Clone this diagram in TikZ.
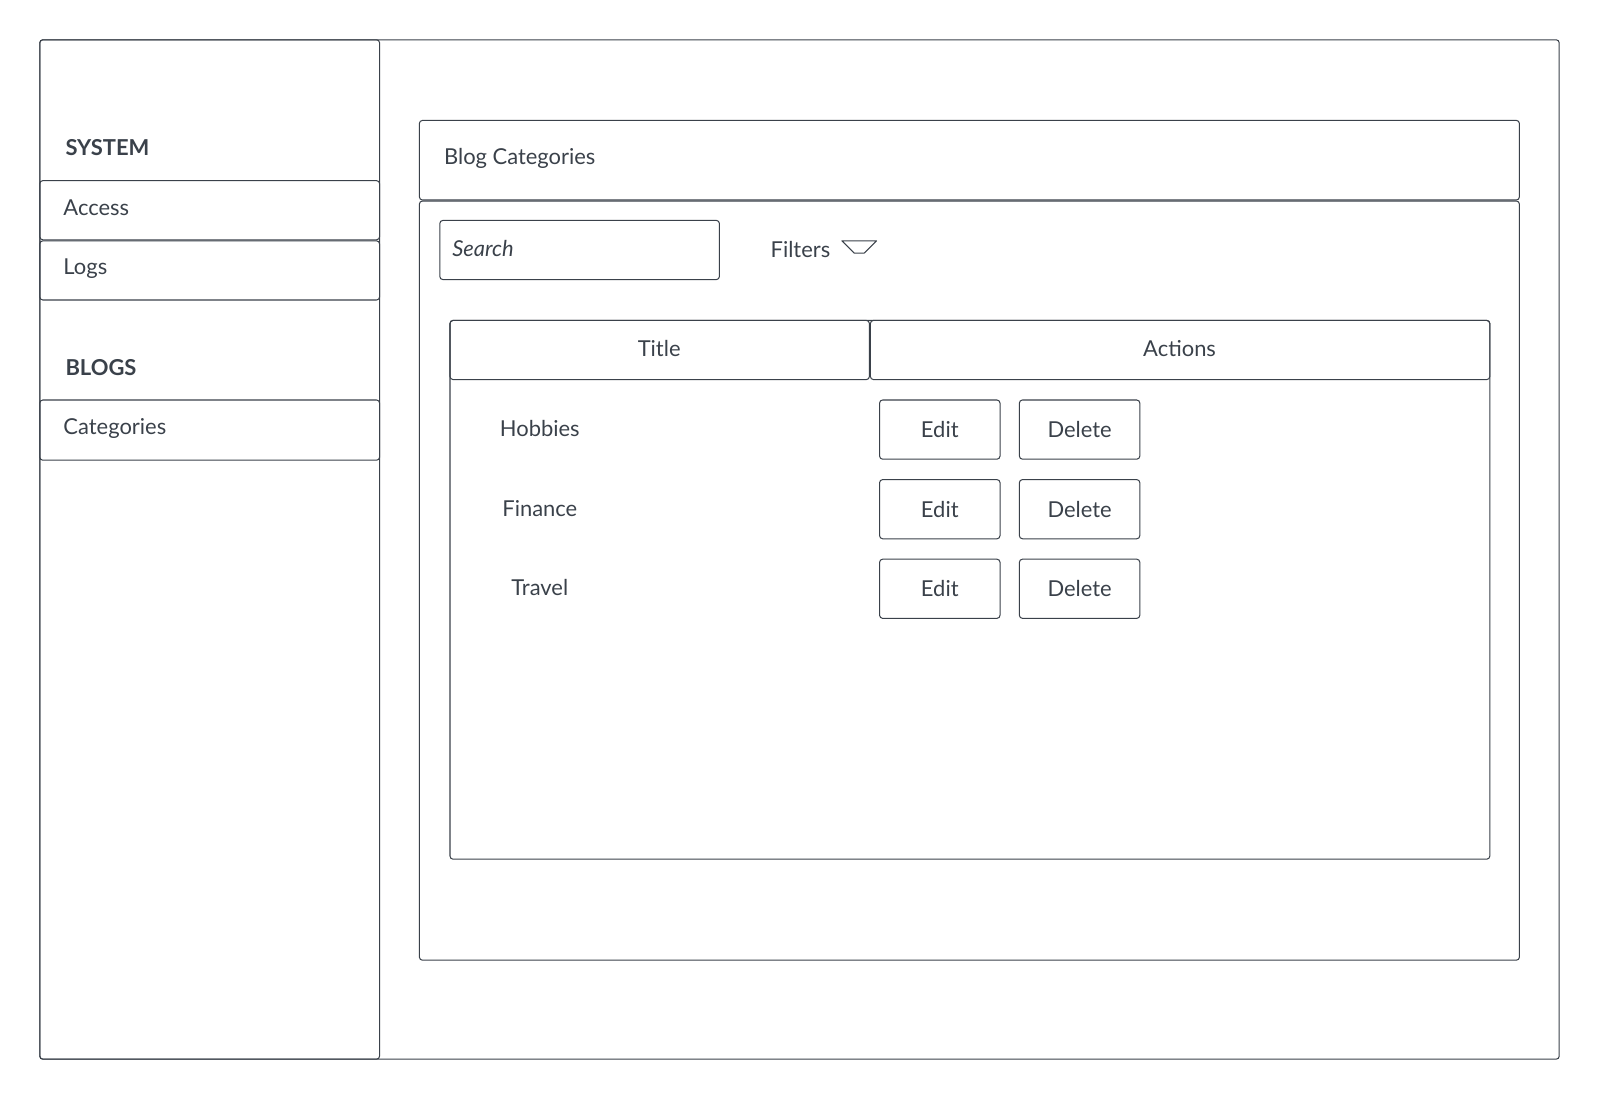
\documentclass[tikz,border=0pt]{standalone}
\usepackage{fontspec}
\setmainfont{Lato}
\definecolor{ink}{HTML}{3A414A}
\begin{document}
\begin{tikzpicture}[x=1pt,y=-1pt,
  box/.style={draw=ink,line width=1pt,rounded corners=3pt},
  txt/.style={text=ink,font=\fontsize{21.5}{24}\selectfont,inner sep=0pt},
  btn/.style={box,minimum width=118pt,minimum height=58pt,text=ink,font=\fontsize{21.5}{24}\selectfont}]
\useasboundingbox (0,0) rectangle (1568,1078);
\draw[box] (39,39) rectangle (1528,1038);
\draw[box] (39,39) rectangle (372,1038);
\node[txt,anchor=west,font=\bfseries\fontsize{21.5}{24}\selectfont] (sys) at (64,145) {SYSTEM};
\draw[box] (39,177) rectangle (372,235); \node[txt,anchor=west] (acc) at (62,204) {Access};
\draw[box] (39,236) rectangle (372,294); \node[txt,anchor=west] (logs) at (62,263) {Logs};
\node[txt,anchor=west,font=\bfseries\fontsize{21.5}{24}\selectfont] (blogs) at (64,360) {BLOGS};
\draw[box] (39,392) rectangle (372,451); \node[txt,anchor=west] (cat) at (62,420) {Categories};
\draw[box] (411,118) rectangle (1489,196); \node[txt,anchor=west] (bc) at (435,155) {Blog Categories};
\draw[box] (411,197) rectangle (1489,941);
\draw[box] (431,216) rectangle (705,274); \node[txt,anchor=west,font=\itshape\fontsize{21.5}{24}\selectfont] (search) at (443,244) {Search};
\node[txt,anchor=west] (filt) at (755,245) {Filters};
\draw[draw=ink,line width=1pt,line join=round] (825,236) -- (859,236) -- (847,248) -- (837,248) -- cycle;
\draw[box] (441,314) rectangle (1460,842);
\draw[box] (441,314) rectangle (852,372); \node[txt] (title) at (646,342) {Title};
\draw[box] (853,314) rectangle (1460,372); \node[txt] (act) at (1156,342) {Actions};
\foreach \y/\t [count=\i] in {420/Hobbies,498/Finance,576/Travel}{
  \node[txt] (r\i) at (529,\y) {\t};
  \node[btn] (e\i) at (921,\y+1) {Edit};
  \node[btn] (d\i) at (1058,\y+1) {Delete};
}
\end{tikzpicture}
\end{document}
